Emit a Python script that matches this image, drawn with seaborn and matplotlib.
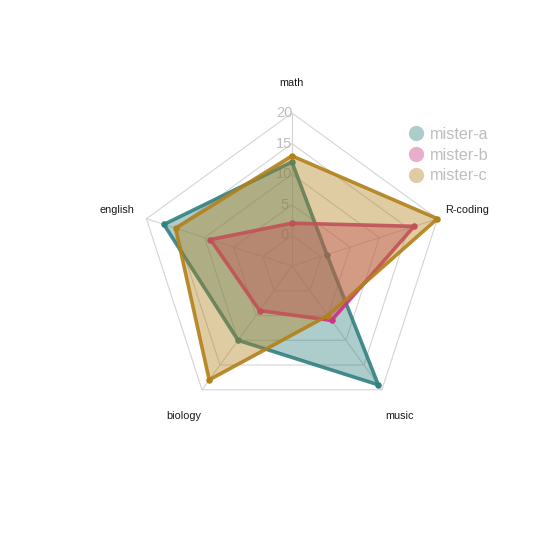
import numpy as np
import pandas as pd
import matplotlib
matplotlib.use("Agg")
import matplotlib.pyplot as plt
import seaborn as sns
from matplotlib.lines import Line2D

categories = ["math", "english", "biology", "music", "R-coding"]
names = ["mister-a", "mister-b", "mister-c"]
mister_a = [12, 17, 10, 19, 1]
mister_b = [2, 9, 4, 6, 16]
mister_c = [13, 15, 18, 5, 20]
axis_ticks = [0, 5, 10, 15, 20]
vmin, vmax = 0, 20

border_cols = [(0.2, 0.5, 0.5, 0.9), (0.8, 0.2, 0.5, 0.9), (0.7, 0.5, 0.1, 0.9)]
fill_cols = [(0.2, 0.5, 0.5, 0.4), (0.8, 0.2, 0.5, 0.4), (0.7, 0.5, 0.1, 0.4)]

sns.set_style("white")
plt.rcParams["font.family"] = ["Liberation Sans", "DejaVu Sans"]

n = len(categories)
theta = np.pi / 2 + 2 * np.pi * np.arange(n) / n
seg = 4


def scale(v):
    v = np.asarray(v, dtype=float)
    return 1.0 / (seg + 1) + (v - vmin) / (vmax - vmin) * seg / (seg + 1)


fig = plt.figure(figsize=(5.51, 5.51), dpi=100)
ax = fig.add_axes([0, 0, 1, 1])

grid_col = "#d4d4d4"
# rings
for t in axis_ticks:
    r = scale(t)
    xs = np.append(r * np.cos(theta), r * np.cos(theta[0]))
    ys = np.append(r * np.sin(theta), r * np.sin(theta[0]))
    ax.plot(xs, ys, color=grid_col, lw=0.8, zorder=1)
# spokes
for th in theta:
    ax.plot([0, np.cos(th)], [0, np.sin(th)], color=grid_col, lw=0.8, zorder=1)

# axis value labels (drawn beneath the filled polygons)
for t in axis_ticks:
    ax.text(-0.05, scale(t), str(t), color="#bebebe", fontsize=10.5,
            ha="center", va="center", zorder=1.5)

series = [mister_a, mister_b, mister_c]
for i, (name, vals) in enumerate(zip(names, series)):
    r = scale(vals)
    df = pd.DataFrame({"x": np.append(r * np.cos(theta), r[0] * np.cos(theta[0])),
                       "y": np.append(r * np.sin(theta), r[0] * np.sin(theta[0]))})
    ax.fill(df["x"], df["y"], color=fill_cols[i], lw=0, zorder=2 + i)
    sns.lineplot(data=df, x="x", y="y", sort=False, estimator=None, ax=ax,
                 color=border_cols[i][:3], alpha=0.9, lw=2.6, zorder=2 + i)
    sns.scatterplot(data=df.iloc[:n], x="x", y="y", ax=ax, color=border_cols[i][:3],
                    s=22, linewidth=0, zorder=2.5 + i)

ax.set_xlim(-1.908, 1.693)
ax.set_ylim(-1.863, 1.739)
ax.set_axis_off()

# category labels
for th, lab in zip(theta, categories):
    ax.text(1.2 * np.cos(th), 1.2 * np.sin(th), lab, fontsize=7.8,
            ha="center", va="center_baseline", color="#1a1a1a")

handles = [Line2D([0], [0], marker="o", linestyle="none", markersize=11,
                  markerfacecolor=fill_cols[i], markeredgewidth=0) for i in range(3)]
leg = fig.legend(handles, names, loc="upper left", bbox_to_anchor=(0.725, 0.781),
                 frameon=False, fontsize=11.6, labelspacing=0.35, handletextpad=0.3,
                 borderaxespad=0, handlelength=1.2)
for txt in leg.get_texts():
    txt.set_color("#bebebe")

fig.savefig("out.png", dpi=100)
